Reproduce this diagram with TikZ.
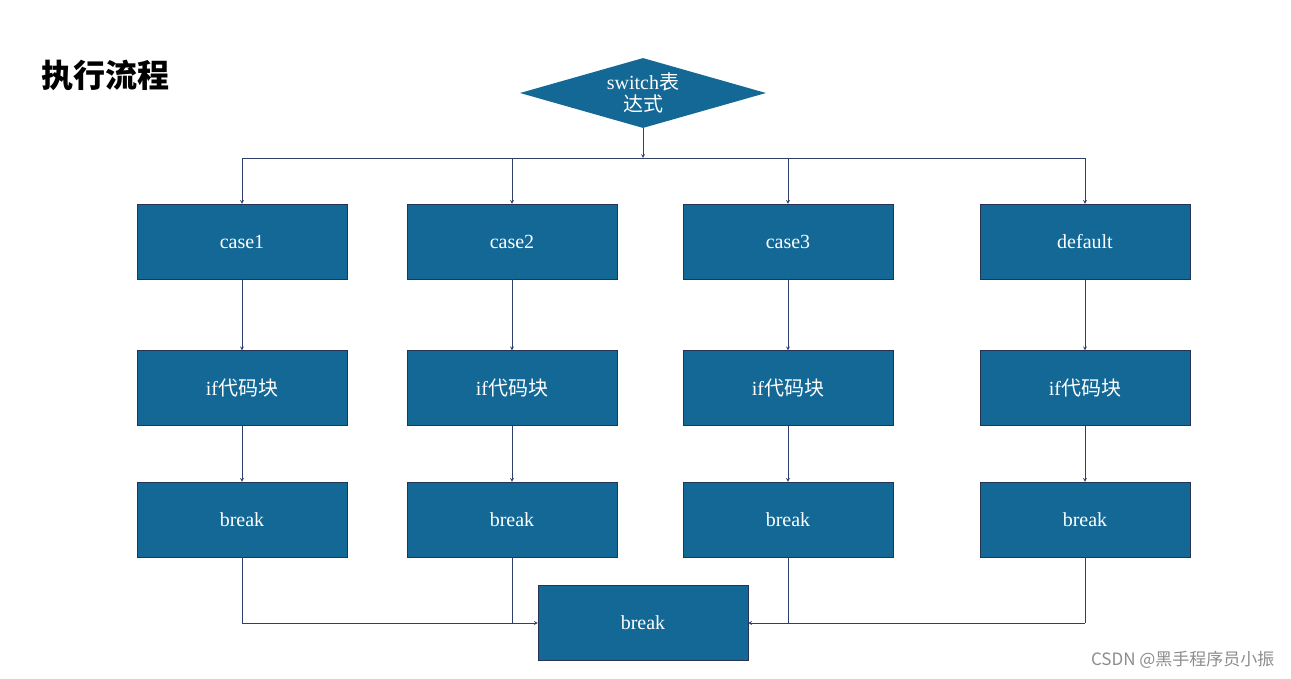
\documentclass[tikz,border=0pt]{standalone}
\usepackage{fontspec}
\setmainfont{Liberation Serif}
\newfontfamily\cjk{Noto Sans CJK SC}
\usetikzlibrary{shapes.geometric,positioning}
\definecolor{BoxBlue}{RGB}{19,104,150}
\definecolor{LineNavy}{RGB}{47,62,107}

\begin{document}
\begin{tikzpicture}[x=1pt,y=-1pt,
       >=stealth, draw=LineNavy, thin,
       every node/.style={font=\fontsize{20}{22}\selectfont},
       flowbox/.style={rectangle, minimum width=210pt, minimum height=75pt,
                       fill=BoxBlue, draw=LineNavy!80!black, text=white, inner sep=0pt},
       link/.style={->, draw=LineNavy, line width=0.7pt}]
	\useasboundingbox (0,0) rectangle (1291,678);

	%% Title and watermark
	\node[anchor=west, font=\cjk\bfseries\fontsize{32}{34}\selectfont] (title) at (38,75) {执行流程};
	\node[anchor=east, text=black!45, font=\cjk\fontsize{17}{19}\selectfont] (mark) at (1278,660) {CSDN @黑手程序员小振};

	%% Switch expression
	\node[diamond, aspect=3.5, minimum width=246pt, minimum height=70pt, inner sep=0pt,
	      fill=BoxBlue, text=white, align=center, font=\fontsize{20}{24}\selectfont]
	      (switch) at (643,93) {switch{\cjk 表}\\[-2pt]{\cjk 达式}};
	\coordinate (split) at (643,158);
	\draw[link] (switch.south) -- (split);
	\draw[LineNavy, line width=0.7pt] (242,158) -- (1085,158);

	%% Four columns
	\foreach [count=\i] \x/\t in {242/case1, 512/case2, 788/case3, 1085/default}
	   {\node[flowbox] (c\i) at (\x,241.5) {\t};
	    \node[flowbox] (i\i) at (\x,388) {if{\cjk 代码块}};
	    \node[flowbox] (b\i) at (\x,519.5) {break};
	    \coordinate (top\i) at (\x,158);
	    \coordinate (low\i) at (\x,623);
	    \draw[link] (top\i) -- (c\i);
	    \draw[link] (c\i) -- (i\i);
	    \draw[link] (i\i) -- (b\i);}

	%% Final break
	\node[flowbox] (end) at (643,623) {break};
	\draw[LineNavy, line width=0.7pt] (b1) -- (low1);
	\draw[link] (low1) -- (end.west);
	\draw[LineNavy, line width=0.7pt] (b2) -- (low2);
	\draw[LineNavy, line width=0.7pt] (b3) -- (low3);
	\draw[LineNavy, line width=0.7pt] (b4) -- (low4);
	\draw[link] (low4) -- (end.east);
\end{tikzpicture}
\end{document}
